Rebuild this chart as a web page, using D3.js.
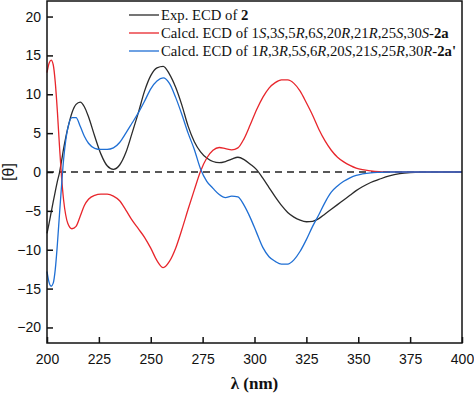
<!DOCTYPE html>
<html>
<head>
<meta charset="utf-8">
<script src="https://cdn.jsdelivr.net/npm/d3@7"></script>
<style>
  body { margin: 0; background: #fff; }
  .axis text { font-family: "Liberation Sans", Arial, sans-serif; font-size: 14px; fill: #111; }
  .axis path, .axis line { stroke: #111; stroke-width: 1.5px; }
  .curve { fill: none; stroke-width: 1.3px; }
  .legend text { font-family: "Liberation Serif", "Times New Roman", serif; font-size: 14.7px; fill: #111; }
  .xtitle { font-family: "Liberation Serif", "Times New Roman", serif; font-weight: bold; font-size: 17px; fill: #111; }
  .ytitle { font-family: "Liberation Sans", Arial, sans-serif; font-size: 16px; fill: #111; }
</style>
</head>
<body>
<div id="chart"></div>
<script>
// wavelengths (nm)
var lambda = [200,201,202,203,204,205,206,207,208,209,210,212,214,216,218,220,223,226,229,232,235,238,241,244,247,250,253,256,259,262,265,268,271,274,277,280,283,286,289,292,295,298,301,304,307,310,313,316,319,322,325,328,331,334,337,340,343,346,349,352,356,360,365,370,375,380,390,400];

// Exp. ECD of 2
var expEcd = [-7.9,-6.6,-5.2,-3.8,-2.5,-1.2,-0.1,1.4,3.0,4.4,5.6,7.6,8.7,9.0,8.4,7.1,4.6,2.3,0.8,0.35,0.9,2.5,5.0,7.6,10.4,12.4,13.4,13.6,12.6,10.9,8.6,5.9,3.9,2.6,1.8,1.35,1.2,1.35,1.65,1.9,1.6,1.0,0.3,-0.8,-2.0,-3.2,-4.3,-5.2,-5.8,-6.2,-6.4,-6.35,-6.0,-5.4,-4.8,-4.2,-3.6,-3.0,-2.4,-1.9,-1.35,-0.95,-0.5,-0.22,-0.08,-0.02,0,0];

// Calcd. ECD of 2a
var calc2a = [12.8,14.0,14.4,13.8,11.5,7.8,3.4,-0.6,-3.6,-5.5,-6.6,-7.3,-7.0,-5.7,-4.3,-3.5,-3.0,-2.85,-2.85,-3.1,-3.7,-4.9,-6.2,-7.3,-8.4,-9.8,-11.4,-12.3,-11.5,-9.8,-7.4,-4.8,-2.3,0.1,1.8,2.8,3.15,3.0,2.85,3.1,4.3,6.1,8.0,9.6,10.8,11.5,11.85,11.85,11.4,10.4,8.9,7.3,5.5,4.0,2.8,1.9,1.3,0.85,0.5,0.3,0.15,0.06,0.02,0,0,0,0,0];

// Calcd. ECD of 2a'
var calc2aP = [-12.8,-14.2,-14.7,-14.3,-12.5,-9.3,-5.5,-1.8,1.6,4.0,5.6,7.0,7.0,5.9,4.6,3.7,3.05,2.9,2.9,3.1,3.8,5.0,6.3,7.6,9.1,10.7,11.7,12.1,11.4,9.6,7.4,5.0,2.9,0.4,-1.2,-2.1,-2.9,-3.3,-3.1,-3.2,-4.3,-5.9,-7.8,-9.7,-10.9,-11.5,-11.85,-11.85,-11.3,-10.2,-8.7,-7.0,-5.5,-3.9,-2.6,-1.8,-1.2,-0.75,-0.43,-0.25,-0.1,-0.04,0,0,0,0,0,0];

var seriesColors = ["#2b2b2b", "#e8262c", "#1f6fd4"];

// legend labels: pieces with font style (n = normal, i = italic, b = bold)
var legendLabels = [
  [["Exp. ECD of ", "n"], ["2", "b"]],
  [["Calcd. ECD of 1", "n"], ["S", "i"], [",3", "n"], ["S", "i"], [",5", "n"], ["R", "i"], [",6", "n"], ["S", "i"], [",20", "n"], ["R", "i"], [",21", "n"], ["R", "i"], [",25", "n"], ["S", "i"], [",30", "n"], ["S", "i"], ["-", "n"], ["2a", "b"]],
  [["Calcd. ECD of 1", "n"], ["R", "i"], [",3", "n"], ["R", "i"], [",5", "n"], ["S", "i"], [",6", "n"], ["R", "i"], [",20", "n"], ["S", "i"], [",21", "n"], ["S", "i"], [",25", "n"], ["R", "i"], [",30", "n"], ["R", "i"], ["-", "n"], ["2a'", "b"]]
];

var xTicks = [200,225,250,275,300,325,350,375,400];
var yTicks = [-20,-15,-10,-5,0,5,10,15,20];

var margin = {top: 1, right: 12, bottom: 52, left: 47};
var width = 474 - margin.left - margin.right;
var height = 395 - margin.top - margin.bottom;

var svg = d3.select("#chart")
.append("svg")
.attr("width", 474)
.attr("height", 395);

var g = svg.append("g")
.attr("transform", "translate(" + margin.left + "," + margin.top + ")");

var x = d3.scaleLinear().domain([200, 400]).range([0, width]);
var y = d3.scaleLinear().domain([-22, 22]).range([height, 0]);

//zero line
g.append("line")
.attr("x1", x(200)).attr("x2", x(400))
.attr("y1", y(0)).attr("y2", y(0))
.attr("stroke", "#222")
.attr("stroke-width", 1.3)
.attr("stroke-dasharray", "7,5");

//curves
var allSeries = [expEcd, calc2a, calc2aP];
var line = d3.line()
.x(function(d, i) { return x(lambda[i]); })
.y(function(d) { return y(d); })
.curve(d3.curveMonotoneX);

g.selectAll(".curve")
.data(allSeries)
.enter()
.append("path")
.attr("class", "curve")
.attr("stroke", function(d, i) { return seriesColors[i]; })
.attr("d", line);

//frame
g.append("rect")
.attr("width", width).attr("height", height)
.attr("fill", "none")
.attr("stroke", "#111")
.attr("stroke-width", 1.5);

//x axis, ticks inside
g.append("g")
.attr("class", "axis")
.attr("transform", "translate(0," + height + ")")
.call(d3.axisBottom(x).tickValues(xTicks).tickSizeInner(-6).tickSizeOuter(0).tickPadding(11));

//y axis, ticks inside
g.append("g")
.attr("class", "axis")
.call(d3.axisLeft(y).tickValues(yTicks).tickSizeInner(-6).tickSizeOuter(0).tickPadding(6));

g.selectAll(".axis .domain").remove();

//axis titles
svg.append("text")
.attr("class", "xtitle")
.attr("x", margin.left + width / 2)
.attr("y", 389)
.attr("text-anchor", "middle")
.text("λ (nm)");

svg.append("text")
.attr("class", "ytitle")
.attr("transform", "translate(14," + (margin.top + y(0)) + ") rotate(-90)")
.attr("text-anchor", "middle")
.text("[θ]");

//legend
var legend = svg.append("g").attr("class", "legend");
legendLabels.forEach(function(parts, i) {
  var ly = 15 + i * 18;
  legend.append("line")
  .attr("x1", 129).attr("x2", 159)
  .attr("y1", ly).attr("y2", ly)
  .attr("stroke", seriesColors[i])
  .attr("stroke-width", 1.3);
  var t = legend.append("text")
  .attr("x", 161)
  .attr("y", ly + 5);
  parts.forEach(function(p) {
    t.append("tspan")
    .style("font-style", p[1] == "i" ? "italic" : "normal")
    .style("font-weight", p[1] == "b" ? "bold" : "normal")
    .text(p[0]);
  });
});
</script>
</body>
</html>
